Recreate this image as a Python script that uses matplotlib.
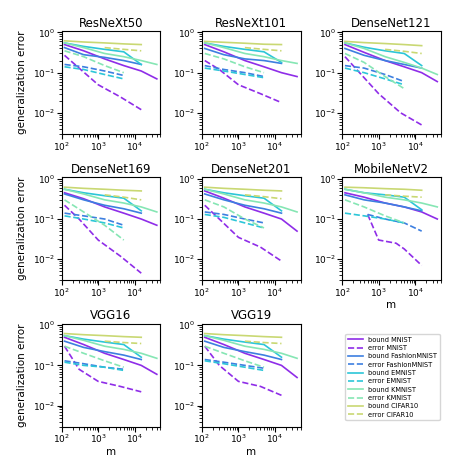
import matplotlib
matplotlib.use("Agg")
import matplotlib.pyplot as plt

datasets = ["MNIST", "FashionMNIST", "EMNIST", "KMNIST", "CIFAR10"]
colors = ["#8f2de8", "#3d7fe0", "#2cc6d8", "#86e6b4", "#c9d873"]
models = ["ResNeXt50", "ResNeXt101", "DenseNet121", "DenseNet169",
          "DenseNet201", "MobileNetV2", "VGG16", "VGG19"]

# sample sizes
m_bound = {"MNIST": [120, 400, 1500, 5000, 15000, 40000],
           "FashionMNIST": [120, 400, 1500, 5000, 15000],
           "EMNIST": [120, 400, 1500, 5000, 15000],
           "KMNIST": [120, 400, 1500, 5000, 15000, 40000],
           "CIFAR10": [120, 400, 1500, 5000, 15000]}
m_error = {"MNIST": [120, 300, 1000, 4000, 15000],
           "FashionMNIST": [120, 400, 1500, 5000],
           "EMNIST": [120, 400, 1500, 5000],
           "KMNIST": [120, 400, 1500, 5000],
           "CIFAR10": [1500, 5000, 15000]}
m_error_mobile = {"MNIST": [500, 1000, 3000, 5000, 15000],
                  "FashionMNIST": [500, 1500, 5000, 15000]}

# bounds per model (MNIST, Fashion, EMNIST, KMNIST, CIFAR10)
bounds = {
    "ResNeXt50": [[0.5, 0.35, 0.22, 0.15, 0.11, 0.07], [0.42, 0.28, 0.24, 0.2, 0.16],
                  [0.55, 0.45, 0.38, 0.33, 0.16], [0.55, 0.42, 0.3, 0.25, 0.2, 0.16],
                  [0.62, 0.58, 0.55, 0.52, 0.5]],
    "ResNeXt101": [[0.5, 0.33, 0.2, 0.14, 0.1, 0.08], [0.4, 0.28, 0.22, 0.2, 0.17],
                   [0.55, 0.45, 0.38, 0.33, 0.18], [0.55, 0.42, 0.3, 0.25, 0.2, 0.17],
                   [0.6, 0.57, 0.54, 0.51, 0.5]],
    "DenseNet121": [[0.5, 0.32, 0.2, 0.14, 0.1, 0.06], [0.4, 0.27, 0.2, 0.16, 0.13],
                    [0.55, 0.43, 0.35, 0.3, 0.15], [0.55, 0.4, 0.25, 0.18, 0.13, 0.09],
                    [0.6, 0.56, 0.53, 0.5, 0.47]],
    "DenseNet169": [[0.45, 0.32, 0.2, 0.14, 0.1, 0.07], [0.42, 0.3, 0.22, 0.18, 0.14],
                    [0.55, 0.45, 0.38, 0.33, 0.16], [0.55, 0.42, 0.3, 0.25, 0.2, 0.15],
                    [0.62, 0.58, 0.55, 0.52, 0.5]],
    "DenseNet201": [[0.5, 0.33, 0.2, 0.14, 0.1, 0.05], [0.42, 0.3, 0.22, 0.18, 0.14],
                    [0.55, 0.45, 0.38, 0.33, 0.16], [0.55, 0.42, 0.3, 0.25, 0.2, 0.15],
                    [0.62, 0.58, 0.55, 0.52, 0.5]],
    "MobileNetV2": [[0.45, 0.35, 0.25, 0.2, 0.15, 0.1], [0.4, 0.3, 0.25, 0.2, 0.16],
                    [0.55, 0.45, 0.4, 0.35, 0.17], [0.55, 0.45, 0.35, 0.3, 0.25, 0.2],
                    [0.62, 0.6, 0.57, 0.55, 0.52]],
    "VGG16": [[0.5, 0.33, 0.2, 0.14, 0.1, 0.06], [0.4, 0.28, 0.22, 0.18, 0.14],
              [0.55, 0.45, 0.38, 0.33, 0.16], [0.55, 0.42, 0.3, 0.25, 0.2, 0.15],
              [0.62, 0.58, 0.55, 0.52, 0.5]],
    "VGG19": [[0.5, 0.33, 0.2, 0.14, 0.1, 0.05], [0.4, 0.28, 0.22, 0.18, 0.14],
              [0.55, 0.45, 0.38, 0.33, 0.16], [0.55, 0.42, 0.3, 0.25, 0.2, 0.15],
              [0.62, 0.58, 0.55, 0.52, 0.5]],
}
errors = {
    "ResNeXt50": [[0.27, 0.13, 0.05, 0.025, 0.012], [0.16, 0.14, 0.11, 0.085],
                  [0.14, 0.12, 0.09, 0.07], [0.35, 0.25, 0.15, 0.1], [0.42, 0.38, 0.35]],
    "ResNeXt101": [[0.2, 0.12, 0.05, 0.03, 0.018], [0.15, 0.12, 0.1, 0.08],
                   [0.13, 0.11, 0.09, 0.075], [0.3, 0.22, 0.14, 0.1], [0.42, 0.38, 0.35]],
    "DenseNet121": [[0.25, 0.1, 0.03, 0.01, 0.005], [0.15, 0.13, 0.09, 0.06],
                    [0.13, 0.1, 0.07, 0.05], [0.3, 0.18, 0.08, 0.04], [0.38, 0.34, 0.3]],
    "DenseNet169": [[0.22, 0.1, 0.03, 0.012, 0.0045], [0.14, 0.12, 0.1, 0.07],
                    [0.12, 0.1, 0.08, 0.06], [0.3, 0.15, 0.07, 0.03], [0.4, 0.35, 0.3]],
    "DenseNet201": [[0.22, 0.1, 0.035, 0.02, 0.009], [0.15, 0.13, 0.1, 0.08],
                    [0.13, 0.11, 0.08, 0.06], [0.3, 0.2, 0.1, 0.06], [0.4, 0.36, 0.32]],
    "MobileNetV2": [[0.13, 0.03, 0.025, 0.018, 0.007], [0.13, 0.1, 0.08, 0.05],
                    [0.14, 0.12, 0.1, 0.08], [0.3, 0.2, 0.12, 0.08], [0.4, 0.37, 0.35]],
    "VGG16": [[0.3, 0.08, 0.04, 0.03, 0.022], [0.13, 0.11, 0.09, 0.08],
              [0.12, 0.1, 0.09, 0.075], [0.3, 0.2, 0.13, 0.09], [0.4, 0.37, 0.35]],
    "VGG19": [[0.3, 0.1, 0.04, 0.03, 0.018], [0.14, 0.12, 0.1, 0.085],
              [0.13, 0.11, 0.09, 0.075], [0.3, 0.2, 0.13, 0.09], [0.4, 0.37, 0.35]],
}

fig, axes = plt.subplots(3, 3, figsize=(4.74, 4.74), dpi=100)
for i, model in enumerate(models):
    ax = axes.flat[i]
    for j, ds in enumerate(datasets):
        ax.plot(m_bound[ds], bounds[model][j], color=colors[j], lw=1.2,
                label="bound " + ds)
        mx = m_error[ds]
        if model == "MobileNetV2" and ds in m_error_mobile:
            mx = m_error_mobile[ds]
        ax.plot(mx, errors[model][j], color=colors[j], lw=1.2, ls="--",
                label="error " + ds)
    ax.set_xscale("log")
    ax.set_yscale("log")
    ax.set_xlim(100, 50000)
    ax.set_ylim(3e-3, 1.1)
    ax.set_title(model, fontsize=8.5, pad=3)
    ax.tick_params(labelsize=6.5, pad=1)
    if i % 3 == 0:
        ax.set_ylabel("generalization error", fontsize=7.5)
    if i >= 5:
        ax.set_xlabel("m", fontsize=7.5, labelpad=1)

axes.flat[8].axis("off")
handles, labels = axes.flat[0].get_legend_handles_labels()
axes.flat[8].legend(handles, labels, loc="upper left", fontsize=4.8,
                    bbox_to_anchor=(0.0, 0.93), handlelength=2.2,
                    labelspacing=0.35)

plt.subplots_adjust(left=0.13, right=0.93, top=0.935, bottom=0.1,
                    wspace=0.42, hspace=0.42)
plt.savefig("out.png", dpi=100)
